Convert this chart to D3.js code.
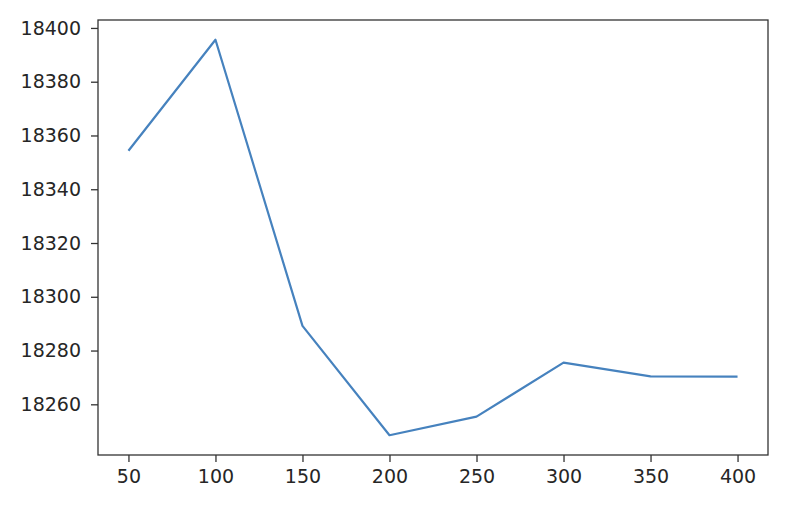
<!DOCTYPE html>
<html>
<head>
<meta charset="utf-8">
<script src="https://cdn.jsdelivr.net/npm/d3@7"></script>
<style>
  body { margin: 0; background: #fff; overflow: hidden; }
  svg { display: block; font-family: "DejaVu Sans", sans-serif; }
</style>
</head>
<body>
<svg width="806" height="516"></svg>
<script>
// Data
const xValues = [50, 100, 150, 200, 250, 300, 350, 400];
const yValues = [18354.3, 18395.6, 18289.2, 18248.5, 18255.4, 18275.5, 18270.4, 18270.3];
const xTicks = [50, 100, 150, 200, 250, 300, 350, 400];
const yTicks = [18260, 18280, 18300, 18320, 18340, 18360, 18380, 18400];

const svg = d3.select('svg');
const margin = {
  top: 20, right: 38, bottom: 61, left: 98,
};
const innerWidth = +svg.attr('width') - margin.left - margin.right;
const innerHeight = +svg.attr('height') - margin.top - margin.bottom;

// matplotlib-like 5% margins around the data
const xPad = (d3.max(xValues) - d3.min(xValues)) * 0.05;
const yPad = (d3.max(yValues) - d3.min(yValues)) * 0.05;

const xScale = d3.scaleLinear()
  .domain([d3.min(xValues) - xPad, d3.max(xValues) + xPad])
  .range([0, innerWidth]);

const yScale = d3.scaleLinear()
  .domain([d3.min(yValues) - yPad, d3.max(yValues) + yPad])
  .range([innerHeight, 0]);

const g = svg.append('g')
  .attr('transform', `translate(${margin.left},${margin.top})`);

// Axes
const xAxis = d3.axisBottom(xScale)
  .tickValues(xTicks)
  .tickSize(7)
  .tickPadding(8)
  .tickSizeOuter(0);
const gx = g.append('g')
  .attr('transform', `translate(0,${innerHeight})`)
  .call(xAxis);

const yAxis = d3.axisLeft(yScale)
  .tickValues(yTicks)
  .tickFormat(d3.format('d'))
  .tickSize(7)
  .tickPadding(10)
  .tickSizeOuter(0);
const gy = g.append('g').call(yAxis);

[gx, gy].forEach((a) => {
  a.select('.domain').remove();
  a.selectAll('.tick line').attr('stroke', '#333').attr('stroke-width', 1.3);
  a.selectAll('.tick text')
    .attr('fill', '#262626')
    .attr('font-size', '19px')
    .attr('font-family', '"DejaVu Sans", sans-serif');
});

// Frame (spines)
g.append('rect')
  .attr('x', 0)
  .attr('y', 0)
  .attr('width', innerWidth)
  .attr('height', innerHeight)
  .attr('fill', 'none')
  .attr('stroke', '#333')
  .attr('stroke-width', 1.3);

// Line
const points = xValues.map((x, i) => [x, yValues[i]]);
g.append('path')
  .datum(points)
  .attr('fill', 'none')
  .attr('stroke', '#4682be')
  .attr('stroke-width', 2.2)
  .attr('stroke-linejoin', 'round')
  .attr('d', d3.line()
    .x((d) => xScale(d[0]))
    .y((d) => yScale(d[1])));
</script>
</body>
</html>
